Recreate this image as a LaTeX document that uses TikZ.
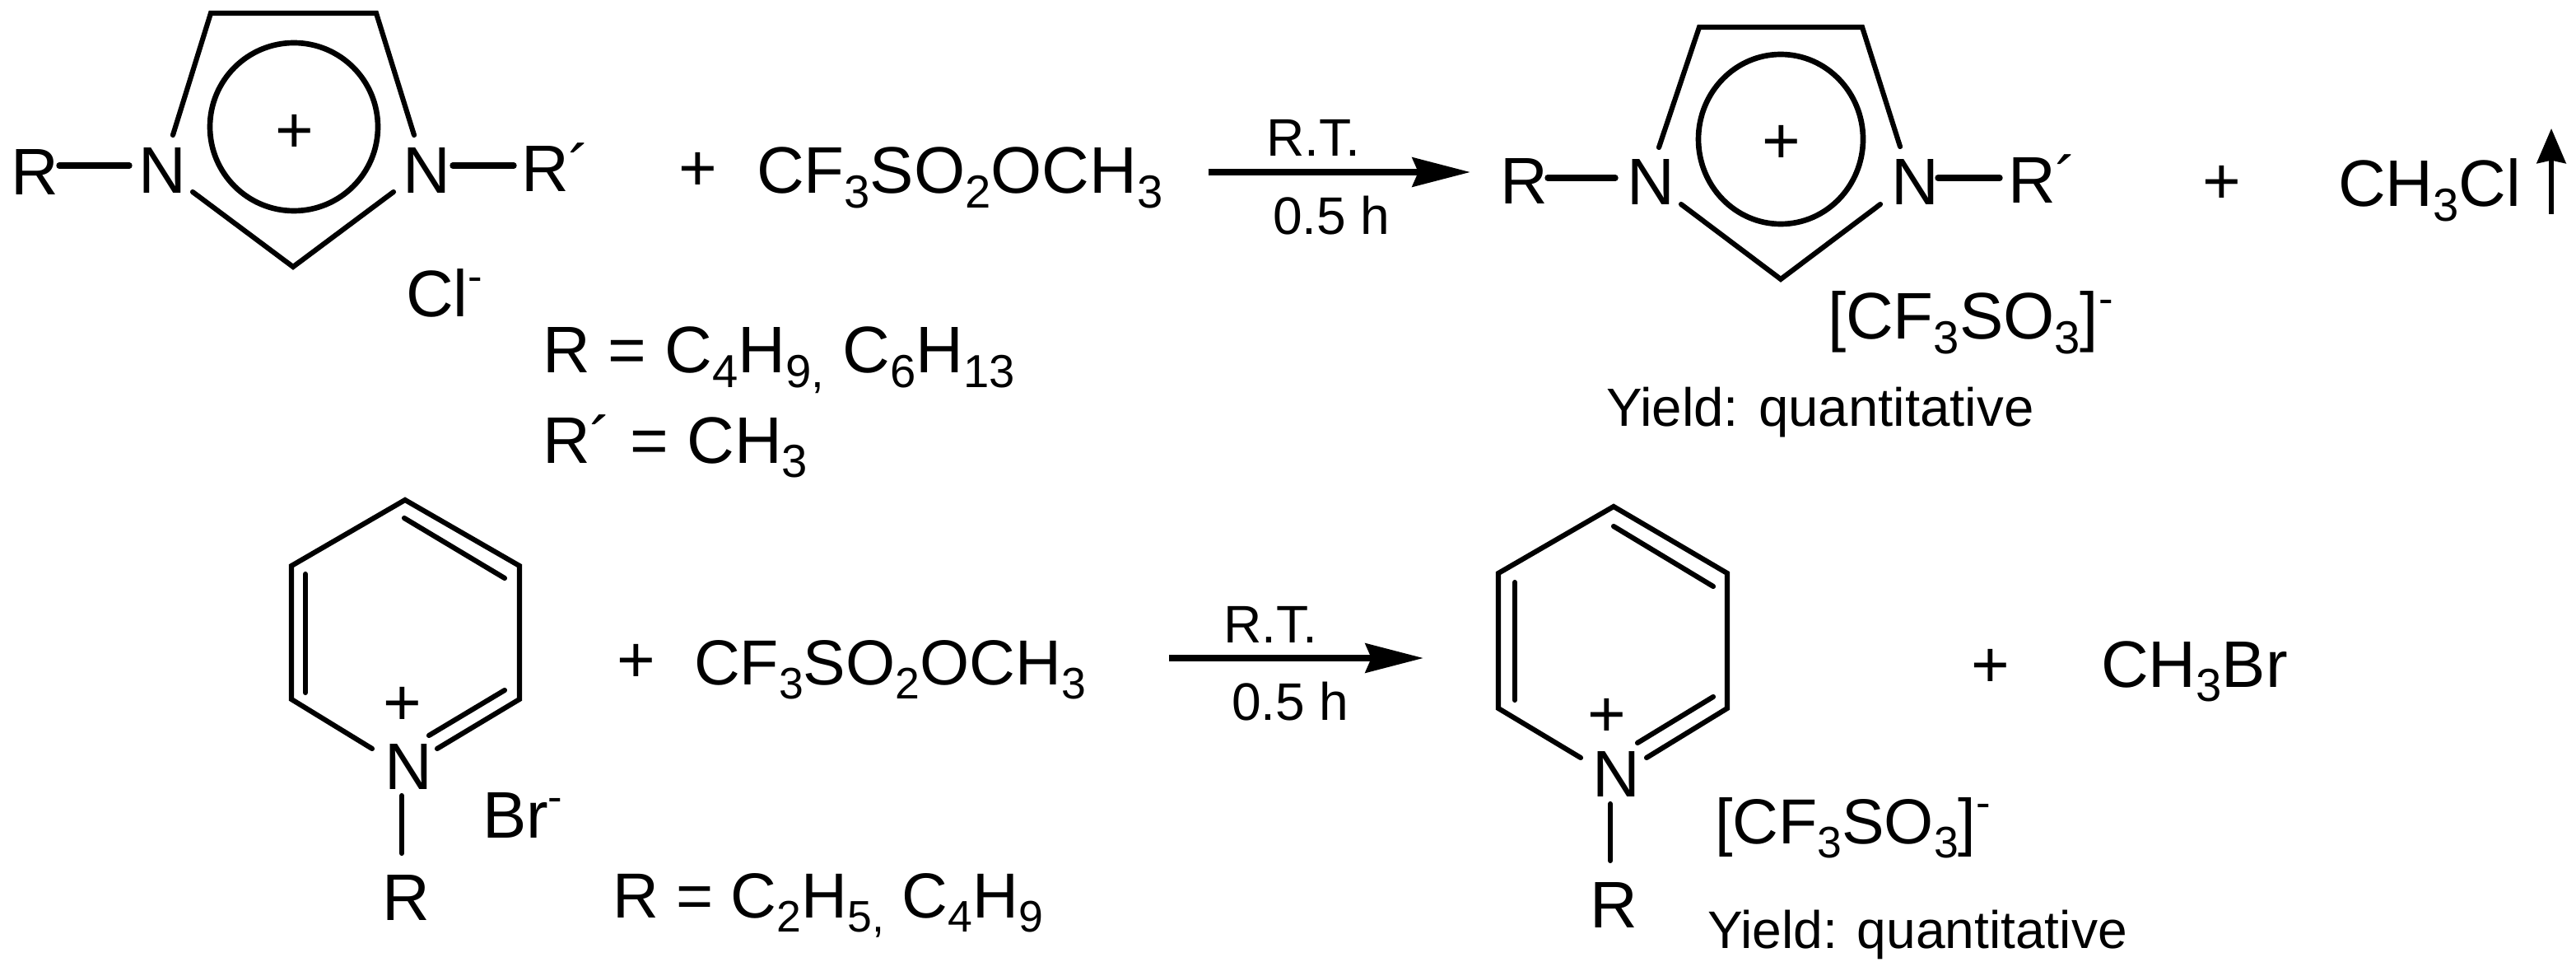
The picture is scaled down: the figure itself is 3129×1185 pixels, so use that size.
\documentclass[tikz,border=0pt]{standalone}
\usepackage{fontspec}
\setmainfont{Liberation Sans}
\usetikzlibrary{arrows.meta}
\newcommand{\bigsz}{\fontsize{45.5}{50}\selectfont}
\newcommand{\lowsz}{\fontsize{44}{48}\selectfont}
\newcommand{\smsz}{\fontsize{36.5}{40}\selectfont}
\newcommand{\chsub}[1]{\raisebox{-10pt}{\fontsize{32}{34}\selectfont #1}}
\newcommand{\lowsub}[1]{\raisebox{-10pt}{\fontsize{30.5}{34}\selectfont #1}}
\newcommand{\chsup}{\raisebox{18pt}{\fontsize{30}{34}\selectfont -}}
\tikzset{
  txt/.style={inner sep=0pt,outer sep=0pt,anchor=base west,font=\bigsz,text=black},
  lowtxt/.style={txt,font=\lowsz},
  stxt/.style={txt,font=\smsz},
  bond/.style={line width=3.5pt,line cap=round,line join=miter,draw=black},
  sidebond/.style={bond,line width=4.2pt},
  ringcircle/.style={bond,line width=3.8pt},
  rxnarrow/.style={line width=4.6pt,draw=black,-{Stealth[length=40pt,width=20pt,inset=4pt]}},
  gasarrow/.style={line width=3.2pt,draw=black,-{Stealth[length=24pt,width=20pt,inset=2pt]}}
}
\begin{document}
\begin{tikzpicture}[x=0.02cm,y=-0.02cm]
\useasboundingbox[fill=white] (0,0) rectangle (3129,1185);
% --- top-left imidazolium
\node[txt] (r1) at (13,237) {R};
\node[txt] (n1) at (168,235) {N};
\node[txt] (n2) at (489,235) {N};
\node[txt] (r2) at (633,233) {R´};
\node[txt] (plus1) at (334,186) {+};
\node[txt] (cl) at (493,385) {Cl\chsup};
\coordinate (a1) at (210,164); \coordinate (a2) at (256,16); \coordinate (a3) at (457,16); \coordinate (a4) at (503,164);
\coordinate (a5) at (478,233); \coordinate (a6) at (356,324); \coordinate (a7) at (234,233);
\coordinate (a8) at (72,201); \coordinate (a9) at (157,201); \coordinate (a10) at (550,201); \coordinate (a11) at (624,201);
\coordinate (ac) at (357,154);
\draw[bond] (a1) -- (a2) -- (a3) -- (a4);
\draw[bond] (a5) -- (a6) -- (a7);
\draw[sidebond] (a8) -- (a9);
\draw[sidebond] (a10) -- (a11);
\draw[ringcircle] (ac) circle [x radius=102,y radius=102];
\node[txt] (plus2) at (824,232) {+};
\node[txt] (reag1) at (919,235) {CF\chsub{3}SO\chsub{2}OCH\chsub{3}};
\node[txt] (rdef1) at (659,453) {R = C\chsub{4}H\chsub{9,} C\chsub{6}H\chsub{13}};
\node[txt] (rdef2) at (659,562) {R´ = CH\chsub{3}};
% --- arrow 1
\coordinate (b1) at (1468,209); \coordinate (b2) at (1786,209);
\draw[rxnarrow] (b1) -- (b2);
\node[stxt] (rt1) at (1538,190) {R.T.};
\node[stxt] (t1) at (1546,285) {0.5 h};
% --- top-right product
\node[txt] (r3) at (1822,248) {R};
\node[txt] (n3) at (1976,249) {N};
\node[txt] (n4) at (2297,249) {N};
\node[txt] (r4) at (2439,247) {R´};
\node[txt] (plus3) at (2140,199) {+};
\coordinate (c1) at (2015,179); \coordinate (c2) at (2064,33); \coordinate (c3) at (2262,33); \coordinate (c4) at (2308,178);
\coordinate (c5) at (2284,248); \coordinate (c6) at (2163,339); \coordinate (c7) at (2042,248);
\coordinate (c8) at (1880,216); \coordinate (c9) at (1962,216); \coordinate (c10) at (2354,216); \coordinate (c11) at (2429,216);
\coordinate (cc) at (2163,169);
\draw[bond] (c1) -- (c2) -- (c3) -- (c4);
\draw[bond] (c5) -- (c6) -- (c7);
\draw[sidebond] (c8) -- (c9);
\draw[sidebond] (c10) -- (c11);
\draw[ringcircle] (cc) circle [x radius=100,y radius=103];
\node[txt] (plus4) at (2675,248) {+};
\node[txt] (prod1) at (2840,251) {CH\chsub{3}Cl};
\coordinate (d1) at (3099,260); \coordinate (d2) at (3099,156);
\draw[gasarrow] (d1) -- (d2);
\node[txt] (anion1) at (2220,412) {[CF\chsub{3}SO\chsub{3}]\chsup};
\node[stxt,font=\fontsize{37.2}{40}\selectfont] (y1) at (1951,517) {Yield: quantitative};
% --- bottom-left pyridinium
\coordinate (e1) at (452,909); \coordinate (e2) at (354,849); \coordinate (e3) at (354,687); \coordinate (e4) at (492,607);
\coordinate (e5) at (631,687); \coordinate (e6) at (631,849); \coordinate (e7) at (531,909);
\coordinate (e8) at (491,629); \coordinate (e9) at (613,702); \coordinate (e10) at (613,838); \coordinate (e11) at (521,893);
\coordinate (e12) at (371,697); \coordinate (e13) at (371,841); \coordinate (e14) at (488,966); \coordinate (e15) at (488,1036);
\draw[bond] (e1) -- (e2) -- (e3) -- (e4) -- (e5) -- (e6) -- (e7);
\draw[bond] (e8) -- (e9);
\draw[bond] (e10) -- (e11);
\draw[bond] (e12) -- (e13);
\draw[bond] (e14) -- (e15);
\node[txt] (plus5) at (465,880) {+};
\node[txt] (n5) at (467,958) {N};
\node[txt] (r5) at (464,1117) {R};
\node[txt] (br) at (586,1017) {Br\chsup};
\node[lowtxt] (rdef3) at (744,1114) {R = C\lowsub{2}H\lowsub{5,} C\lowsub{4}H\lowsub{9}};
\node[txt] (plus6) at (749,828) {+};
\node[lowtxt] (reag2) at (843,831) {CF\lowsub{3}SO\lowsub{2}OCH\lowsub{3}};
% --- arrow 2
\coordinate (f1) at (1420,799); \coordinate (f2) at (1729,799);
\draw[rxnarrow] (f1) -- (f2);
\node[stxt] (rt2) at (1486,780) {R.T.};
\node[stxt] (t2) at (1496,874) {0.5 h};
% --- bottom-right product
\coordinate (g1) at (1920,920); \coordinate (g2) at (1820,860); \coordinate (g3) at (1820,696); \coordinate (g4) at (1960,615);
\coordinate (g5) at (2098,696); \coordinate (g6) at (2098,860); \coordinate (g7) at (2000,920);
\coordinate (g8) at (1960,639); \coordinate (g9) at (2081,712); \coordinate (g10) at (2081,846); \coordinate (g11) at (1989,902);
\coordinate (g12) at (1840,707); \coordinate (g13) at (1840,850); \coordinate (g14) at (1956,976); \coordinate (g15) at (1956,1045);
\draw[bond] (g1) -- (g2) -- (g3) -- (g4) -- (g5) -- (g6) -- (g7);
\draw[bond] (g8) -- (g9);
\draw[bond] (g10) -- (g11);
\draw[bond] (g12) -- (g13);
\draw[bond] (g14) -- (g15);
\node[txt] (plus7) at (1928,894) {+};
\node[txt] (n6) at (1934,967) {N};
\node[txt] (r6) at (1931,1126) {R};
\node[lowtxt] (anion2) at (2083,1024) {[CF\lowsub{3}SO\lowsub{3}]\chsup};
\node[stxt] (y2) at (2074,1151) {Yield: quantitative};
\node[txt] (plus8) at (2394,834) {+};
\node[txt] (prod2) at (2552,834) {CH\chsub{3}Br};
\end{tikzpicture}
\end{document}
